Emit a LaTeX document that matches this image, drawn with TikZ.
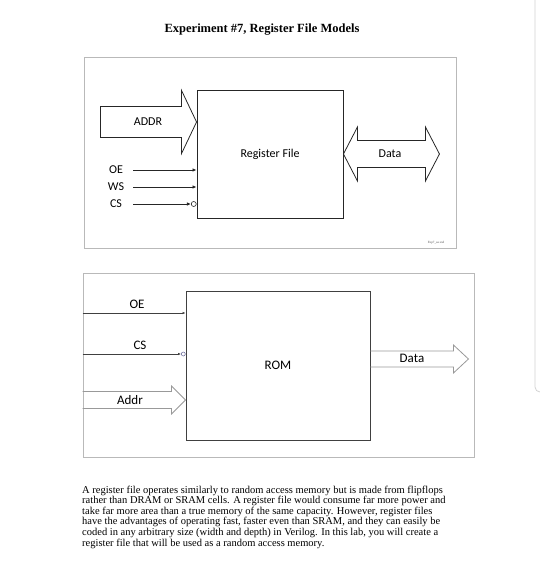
\documentclass[tikz,border=0pt]{standalone}
\usepackage{fontspec}
\setmainfont{Liberation Serif}
\newfontfamily\diagfont{Carlito}
\usepackage{tikz}
\usetikzlibrary{arrows.meta, positioning, calc}

\begin{document}
\begin{tikzpicture}[
    x=1pt, y=-1pt,
    >={Latex[length=4pt, width=3.5pt]},
    framebox/.style={rectangle, draw=gray!55, line width=0.8pt, inner sep=0pt},
    blockbox/.style={rectangle, draw=black!85, line width=0.9pt, inner sep=0pt, font=\diagfont\fontsize{12}{14}\selectfont},
    fatarrow/.style={draw=black!85, line width=0.8pt, line join=miter},
    greyarrow/.style={draw=gray!80, line width=0.8pt, line join=miter},
    siglabel/.style={font=\diagfont\fontsize{12}{14}\selectfont, inner sep=1pt},
    romlabel/.style={font=\diagfont\fontsize{13}{15}\selectfont, inner sep=1pt},
    sigline/.style={->, line width=0.8pt, black!85},
    bubble/.style={circle, draw=black!85, line width=0.6pt, fill=white, inner sep=0pt, minimum size=5pt},
]
\useasboundingbox (0,0) rectangle (540,578);

% Title
\node[font=\fontsize{12.5}{14}\selectfont\bfseries] (title) at (262,30) {Experiment \#7, Register File Models};

% Register file diagram
\node[framebox, minimum width=372pt, minimum height=191pt] (regframe) at (270,152.5) {};
\node[blockbox, minimum width=146pt, minimum height=128pt] (regfile) at (270,154) {Register File};

% ADDR bus into the register file
\coordinate (addrtip) at ([yshift=32pt]regfile.west);
\draw[fatarrow] (addrtip) -- ++(-15,-31.5) -- ++(0,16) -- ++(-81,0) -- ++(0,31) -- ++(81,0) -- ++(0,16) -- cycle;
\node[siglabel] (addrlabel) at (148,122) {ADDR};

% Data bus, both ways
\draw[fatarrow] (regfile.east) -- ++(14,-27) -- ++(0,13.5) -- ++(68,0) -- ++(0,-13.5) -- ++(14,27)
    -- ++(-14,27) -- ++(0,-13.5) -- ++(-68,0) -- ++(0,13.5) -- cycle;
\node[siglabel] (datalabel) at (390,154) {Data};

% Control inputs
\node[siglabel] (oelabel) at (116,170) {OE};
\node[siglabel] (wslabel) at (116,187) {WS};
\node[siglabel] (cslabel) at (116,204) {CS};
\coordinate (oein) at (133,170);
\coordinate (wsin) at (133,187);
\coordinate (csin) at (133,204);
\node[bubble, anchor=east] (csbubble) at (csin -| regfile.west) {};
\draw[sigline] (oein) -- (oein -| regfile.west);
\draw[sigline] (wsin) -- (wsin -| regfile.west);
\draw[sigline] (csin) -- (csbubble.west);

\node[font=\fontsize{3.2}{3.2}\selectfont, text=black!70] (vsdname) at (436,243) {Exp7\_aa.vsd};

% ROM diagram
\node[framebox, minimum width=391pt, minimum height=184pt] (romframe) at (278.5,365) {};
\node[blockbox, draw=black!75, font=\diagfont\fontsize{13}{15}\selectfont, minimum width=184pt, minimum height=149pt] (rom) at (278,365.5) {ROM};

\node[romlabel] (romoe) at (137,304) {OE};
\node[romlabel] (romcs) at (140,345) {CS};
\coordinate (romoein) at (romframe.west |- 0,313);
\coordinate (romcsin) at (romframe.west |- 0,354);
\node[bubble, draw=gray!80!blue, line width=0.5pt, minimum size=4pt, anchor=east] (rombubble) at (romcsin -| rom.west) {};
\draw[->, >={Latex[length=3pt, width=2.5pt]}, line width=0.7pt, black!75] (romoein) -- (romoein -| rom.west);
\draw[->, >={Latex[length=3pt, width=2.5pt]}, line width=0.7pt, black!75] (romcsin) -- (rombubble.west);

% Addr bus into the ROM
\coordinate (romaddrtip) at ([yshift=-34.5pt]rom.west);
\draw[greyarrow] (romaddrtip) ++(-103,-8.5) -- ++(89,0) -- ++(0,-5.5) -- (romaddrtip) -- ++(-14,14) -- ++(0,-5.5) -- ++(-89,0);
\node[romlabel] (romaddr) at (130,400) {Addr};

% Data bus out of the ROM
\coordinate (romdata) at ([yshift=6.5pt]rom.east);
\draw[greyarrow] (romdata) ++(0,-8) -- ++(83,0) -- ++(0,-6) -- ++(15,14) -- ++(-15,14) -- ++(0,-6) -- ++(-83,0);
\node[romlabel] (romdatalabel) at (412,358) {Data};

% Description
\node[anchor=west, align=left, inner sep=0pt, font=\fontsize{10.5}{10.6}\selectfont] (description) at (82,517)
  {A register file operates similarly to random access memory but is made from flipflops\\
   rather than DRAM or SRAM cells. A register file would consume far more power and\\
   take far more area than a true memory of the same capacity. However, register files\\
   have the advantages of operating fast, faster even than SRAM, and they can easily be\\
   coded in any arbitrary size (width and depth) in Verilog. In this lab, you will create a\\
   register file that will be used as a random access memory.};

% Page edge on the right
\draw[gray!35, line width=0.8pt, rounded corners=5pt] (535,0) -- (535,392) -- (541,392);
\end{tikzpicture}
\end{document}
